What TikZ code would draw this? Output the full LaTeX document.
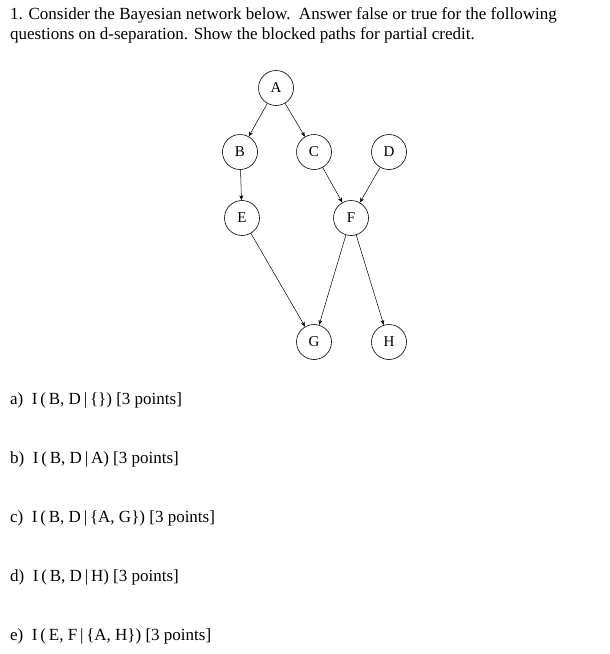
\documentclass[tikz,border=0pt]{standalone}
\usepackage{fontspec}
\setmainfont{Liberation Serif}
\usetikzlibrary{arrows.meta}
\begin{document}
\begin{tikzpicture}[x=1pt,y=-1pt,
  vnode/.style={draw,circle,minimum size=35pt,inner sep=0pt,font=\fontsize{15}{17}\selectfont,line width=0.6pt},
  edge/.style={-{Stealth[length=5pt,width=4pt]},line width=0.5pt},
  txt/.style={anchor=west,inner sep=0pt,font=\fontsize{17}{20}\selectfont}]
\useasboundingbox (0,0) rectangle (610,654);
\node[txt] (t1) at (10,15) {1. Consider the Bayesian network below.\ \ Answer false or true for the following};
\node[txt] (t2) at (10,35) {questions on d-separation. Show the blocked paths for partial credit.};
\node[vnode] (A) at (276,88) {A};
\node[vnode] (B) at (240,152) {B};
\node[vnode] (C) at (314,152) {C};
\node[vnode] (D) at (389,152) {D};
\node[vnode] (E) at (242,218) {E};
\node[vnode] (F) at (351,218) {F};
\node[vnode] (G) at (314,342) {G};
\node[vnode] (H) at (389,342) {H};
\draw[edge] (A) -- (B);
\draw[edge] (A) -- (C);
\draw[edge] (B) -- (E);
\draw[edge] (C) -- (F);
\draw[edge] (D) -- (F);
\draw[edge] (E) -- (G);
\draw[edge] (F) -- (G);
\draw[edge] (F) -- (H);
\node[txt] (qa) at (10,400) {a)\ \ I\,(\,B, D\,|\,\{\}) [3 points]};
\node[txt] (qb) at (10,459) {b)\ \ I\,(\,B, D\,|\,A) [3 points]};
\node[txt] (qc) at (10,518) {c)\ \ I\,(\,B, D\,|\,\{A, G\}) [3 points]};
\node[txt] (qd) at (10,577) {d)\ \ I\,(\,B, D\,|\,H) [3 points]};
\node[txt] (qe) at (10,636) {e)\ \ I\,(\,E, F\,|\,\{A, H\}) [3 points]};
\end{tikzpicture}
\end{document}
